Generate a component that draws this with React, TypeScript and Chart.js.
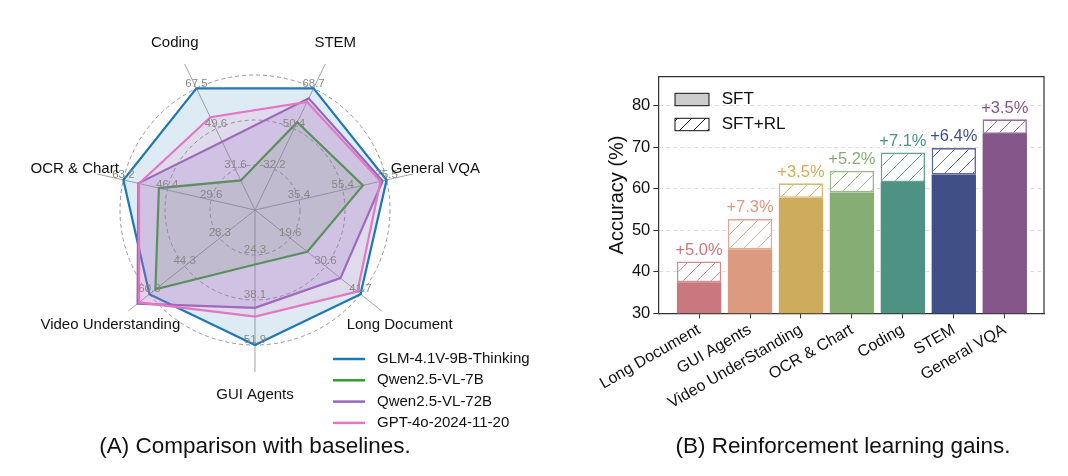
import React, { useEffect, useRef } from "react";
import { Chart, registerables } from "chart.js";

Chart.register(...registerables);

const FONT = '"Liberation Sans", Arial, Helvetica, sans-serif';

// ---------- Radar (A) data ----------
const RADAR_AXES = ["STEM", "General VQA", "Long Document", "GUI Agents", "Video Understanding", "OCR & Chart", "Coding"];
const AXIS_TICKS = [
  [32.2, 50.4, 68.7],
  [35.4, 55.4, 75.5],
  [19.6, 30.6, 41.7],
  [24.3, 38.1, 51.9],
  [28.3, 44.3, 60.3],
  [29.6, 46.4, 63.2],
  [31.6, 49.6, 67.5],
];
const SERIES_NAMES = ["GLM-4.1V-9B-Thinking", "Qwen2.5-VL-7B", "Qwen2.5-VL-72B", "GPT-4o-2024-11-20"];
const GLM = [68.7, 75.5, 41.7, 51.9, 60.3, 63.2, 67.5];
const QWEN7B = [53.5, 64.7, 25.0, 27.2, 57.6, 49.6, 26.7];
const QWEN72B = [64.2, 73.7, 35.4, 40.5, 65.7, 57.5, 43.8];
const GPT4O = [62.6, 72.7, 40.7, 43.2, 65.0, 57.2, 54.7];
const SERIES_COLORS = ["#1f77b4", "#2ca02c", "#9467bd", "#e377c2"];
const SERIES_FILLS = ["rgba(31,119,180,0.15)", "rgba(44,160,44,0.15)", "rgba(148,103,189,0.22)", "rgba(227,119,194,0.14)"];

// ---------- Bar (B) data ----------
const BAR_CATS = ["Long Document", "GUI Agents", "Video UnderStanding", "OCR & Chart", "Coding", "STEM", "General VQA"];
const SFT = [37.5, 45.4, 57.8, 59.1, 61.6, 63.4, 73.2];
const SFT_RL = [42.5, 52.7, 61.3, 64.3, 68.7, 69.8, 76.7];
const GAIN_LABELS = ["+5.0%", "+7.3%", "+3.5%", "+5.2%", "+7.1%", "+6.4%", "+3.5%"];
const BAR_COLORS = ["#c8787e", "#dc9a80", "#ceac5e", "#86ad74", "#4d9283", "#414f88", "#845589"];
const Y_TICKS = [30, 40, 50, 60, 70, 80];

function normalize(vals: number[]) {
  return vals.map((v, i) => {
    const [t1, t2, t3] = AXIS_TICKS[i];
    const lo = 2 * t1 - t2;
    return (v - lo) / (t3 - lo);
  });
}

function hexToRgba(hex: string, a: number) {
  const n = parseInt(hex.slice(1), 16);
  return `rgba(${(n >> 16) & 255},${(n >> 8) & 255},${n & 255},${a})`;
}

function makeHatch(ctx: CanvasRenderingContext2D, color: string, bg: string, size = 14) {
  const c = document.createElement("canvas");
  c.width = size;
  c.height = size;
  const g = c.getContext("2d")!;
  g.fillStyle = bg;
  g.fillRect(0, 0, size, size);
  g.strokeStyle = color;
  g.lineWidth = 1;
  g.beginPath();
  for (const k of [-size, 0, size]) {
    g.moveTo(k, size);
    g.lineTo(k + size, 0);
  }
  g.stroke();
  return ctx.createPattern(c, "repeat")!;
}

const RADAR_W = 530;
const RADAR_H = 476;
const CX = 255;
const CY = 210;
const HALF = 162;

const BAR_W = 538;
const BAR_H = 476;

export default function App() {
  const radarRef = useRef<HTMLCanvasElement>(null);
  const barRef = useRef<HTMLCanvasElement>(null);

  useEffect(() => {
    const radarDecor = {
      id: "radarDecor",
      afterDatasetsDraw(chart: any) {
        const ctx = chart.ctx as CanvasRenderingContext2D;
        const s = chart.scales.r;
        ctx.save();
        ctx.font = `11.5px ${FONT}`;
        ctx.fillStyle = "#888888";
        ctx.textAlign = "center";
        ctx.textBaseline = "middle";
        AXIS_TICKS.forEach((ticks, i) => {
          ticks.forEach((t, j) => {
            const p = s.getPointPosition(i, s.getDistanceFromCenterForValue((j + 1) / 3));
            ctx.fillText(t.toFixed(1), p.x, p.y - 5);
          });
        });
        ctx.font = `15px ${FONT}`;
        ctx.fillStyle = "#111";
        RADAR_AXES.forEach((lab, i) => {
          const p = s.getPointPosition(i, 185);
          ctx.fillText(lab, p.x, p.y);
        });
        // legend
        SERIES_NAMES.forEach((name, i) => {
          const y = 359 + i * 21.3;
          ctx.strokeStyle = SERIES_COLORS[i];
          ctx.lineWidth = 2.5;
          ctx.beginPath();
          ctx.moveTo(333, y);
          ctx.lineTo(365, y);
          ctx.stroke();
          ctx.fillStyle = "#111";
          ctx.textAlign = "left";
          ctx.font = `15px ${FONT}`;
          ctx.fillText(name, 377, y);
        });
        ctx.font = `22.5px ${FONT}`;
        ctx.textAlign = "center";
        ctx.fillStyle = "#111";
        ctx.fillText("(A) Comparison with baselines.", 255, 447);
        ctx.restore();
      },
    };

    const series = [GLM, QWEN7B, QWEN72B, GPT4O];
    const radar = new Chart(radarRef.current!, {
      type: "radar",
      data: {
        labels: RADAR_AXES,
        datasets: series.map((vals, i) => ({
          label: SERIES_NAMES[i],
          data: normalize(vals),
          borderColor: SERIES_COLORS[i],
          backgroundColor: SERIES_FILLS[i],
          borderWidth: 2.2,
          fill: true,
          pointRadius: 0,
          order: 4 - i,
        })),
      },
      options: {
        animation: false,
        responsive: false,
        layout: {
          padding: { left: CX - HALF, right: RADAR_W - (CX + HALF), top: CY - HALF, bottom: RADAR_H - (CY + HALF) },
        },
        plugins: { legend: { display: false }, tooltip: { enabled: false } },
        elements: { line: { tension: 0 } },
        scales: {
          r: {
            min: 0,
            max: 1.2,
            startAngle: 360 / 14,
            ticks: { display: false },
            pointLabels: { display: false },
            grid: {
              circular: true,
              lineWidth: 0.9,
              color: (ctx: any) => {
                const v = ctx.tick ? ctx.tick.value : 0;
                return v > 0.01 && v < 1.01 ? "#8c8c8c" : "rgba(0,0,0,0)";
              },
            },
            border: { dash: [4, 3] },
            angleLines: { color: "#9a9a9a", lineWidth: 0.9 },
            afterBuildTicks: (scale: any) => {
              scale.ticks = [0, 1 / 3, 2 / 3, 1, 1.2].map((v) => ({ value: v }));
            },
          } as any,
        },
      },
      plugins: [radarDecor],
    });

    // ---------- Bar chart ----------
    const barCanvas = barRef.current!;
    const bctx = barCanvas.getContext("2d")!;
    const hatches = BAR_COLORS.map((c) => makeHatch(bctx, hexToRgba(c, 0.85), "#ffffff"));
    const legendHatch = makeHatch(bctx, "#111", "#ffffff");

    const barDecor = {
      id: "barDecor",
      afterDatasetsDraw(chart: any) {
        const ctx = chart.ctx as CanvasRenderingContext2D;
        const meta = chart.getDatasetMeta(1);
        ctx.save();
        ctx.font = `16.5px ${FONT}`;
        ctx.textAlign = "center";
        ctx.textBaseline = "bottom";
        meta.data.forEach((el: any, i: number) => {
          ctx.fillStyle = BAR_COLORS[i];
          ctx.fillText(GAIN_LABELS[i], el.x, el.y - 3);
        });
        ctx.restore();
      },
      afterDraw(chart: any) {
        const ctx = chart.ctx as CanvasRenderingContext2D;
        const a = chart.chartArea;
        ctx.save();
        ctx.strokeStyle = "#333";
        ctx.lineWidth = 1.2;
        ctx.beginPath();
        ctx.moveTo(a.left, a.top);
        ctx.lineTo(a.right, a.top);
        ctx.lineTo(a.right, a.bottom);
        ctx.stroke();
        // legend
        const lx = 145;
        const items = [
          { y: 93.3, fill: "#cccccc", label: "SFT" },
          { y: 118.3, fill: legendHatch as any, label: "SFT+RL" },
        ];
        items.forEach((it) => {
          ctx.fillStyle = it.fill;
          ctx.fillRect(lx, it.y, 34, 12.4);
          ctx.strokeStyle = "#111";
          ctx.lineWidth = 1;
          ctx.strokeRect(lx, it.y, 34, 12.4);
          ctx.fillStyle = "#111";
          ctx.font = `17px ${FONT}`;
          ctx.textAlign = "left";
          ctx.textBaseline = "middle";
          ctx.fillText(it.label, 191.7, it.y + 6.5);
        });
        ctx.font = `22.5px ${FONT}`;
        ctx.textAlign = "center";
        ctx.textBaseline = "middle";
        ctx.fillText("(B) Reinforcement learning gains.", 313, 447);
        ctx.restore();
      },
    };

    const bar = new Chart(barCanvas, {
      type: "bar",
      data: {
        datasets: [
          {
            label: "SFT",
            data: SFT.map((y, i) => ({ x: i, y })),
            backgroundColor: BAR_COLORS,
            borderWidth: 0,
            stack: "s",
          },
          {
            label: "SFT+RL",
            data: SFT_RL.map((y, i) => ({ x: i, y: y - SFT[i] })),
            backgroundColor: hatches as any,
            borderColor: BAR_COLORS.map((c) => hexToRgba(c, 0.85)),
            borderWidth: 1.6,
            borderSkipped: false,
            stack: "s",
          },
        ],
      },
      options: {
        animation: false,
        responsive: false,
        layout: { padding: { left: 0, right: 24, top: 76.6, bottom: 0 } },
        plugins: { legend: { display: false }, tooltip: { enabled: false } },
        datasets: { bar: { categoryPercentage: 1, barPercentage: 0.87 } },
        scales: {
          x: {
            type: "linear",
            stacked: true,
            offset: false,
            min: -0.8,
            max: 6.77,
            afterBuildTicks: (scale: any) => {
              scale.ticks = BAR_CATS.map((_, i) => ({ value: i }));
            },
            afterFit: (scale: any) => {
              scale.height = 162.7;
            },
            ticks: {
              autoSkip: false,
              minRotation: 30,
              maxRotation: 30,
              padding: 2,
              color: "#111",
              font: { family: FONT, size: 16 },
              callback: (v: any) => BAR_CATS[v as number] ?? "",
            },
            grid: { offset: false, drawOnChartArea: false, drawTicks: true, tickLength: 5, tickColor: "#333", tickWidth: 1 },
            border: { display: true, color: "#333", width: 1.2 },
          },
          y: {
            stacked: true,
            min: 30,
            max: 87,
            afterBuildTicks: (scale: any) => {
              scale.ticks = Y_TICKS.map((v) => ({ value: v }));
            },
            afterFit: (scale: any) => {
              scale.width = 128.3;
            },
            ticks: { color: "#111", padding: 3, font: { family: FONT, size: 16.5 } },
            grid: { color: "#d6d6d6", lineWidth: 0.8, tickColor: "#333", tickLength: 5, tickWidth: 1 },
            border: { display: true, color: "#333", width: 1.2, dash: [4, 3] },
            title: {
              display: true,
              text: "Accuracy (%)",
              color: "#111",
              font: { family: FONT, size: 20 },
              padding: { top: 75, bottom: 0 },
            },
          },
        },
      } as any,
      plugins: [barDecor],
    });

    return () => {
      radar.destroy();
      bar.destroy();
    };
  }, []);

  return (
    <div style={{ position: "fixed", left: 0, top: 0, width: 1068, height: 476, background: "#fff" }}>
      <canvas
        ref={radarRef}
        width={RADAR_W}
        height={RADAR_H}
        style={{ position: "absolute", left: 0, top: 0, width: RADAR_W, height: RADAR_H }}
      />
      <canvas
        ref={barRef}
        width={BAR_W}
        height={BAR_H}
        style={{ position: "absolute", left: 530, top: 0, width: BAR_W, height: BAR_H }}
      />
    </div>
  );
}
